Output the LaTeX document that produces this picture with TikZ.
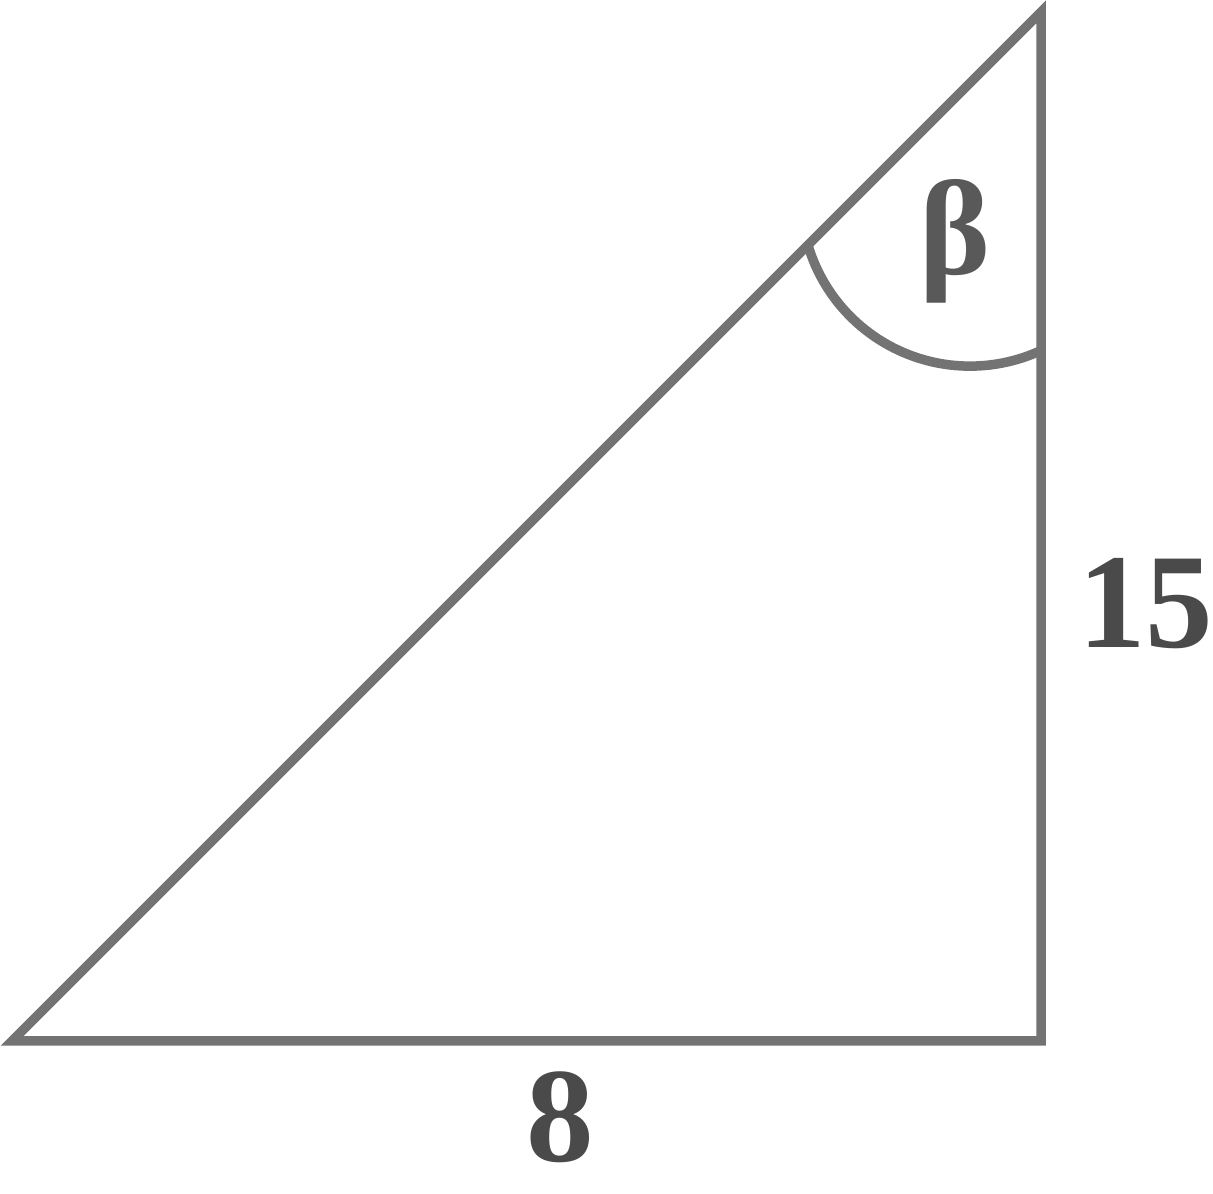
\documentclass[tikz,border=0pt]{standalone}
\usepackage{fontspec}
\setmainfont{Liberation Serif}
\definecolor{linegray}{HTML}{737373}
\definecolor{textgray}{HTML}{4A4A4A}
\definecolor{betagray}{HTML}{595959}
\tikzset{
  edge/.style={draw=linegray, line width=9.5pt, line join=miter},
  lbl/.style={anchor=base, inner sep=0pt, text=textgray, font=\fontsize{135}{160}\selectfont\bfseries}
}
\begin{document}
\begin{tikzpicture}[x=1pt,y=1pt]
\useasboundingbox (0,0) rectangle (1213,1194);
\coordinate (A) at (12,153);
\coordinate (B) at (1041,153);
\coordinate (C) at (1041,1182);
\coordinate (P) at (807.7,949.7);
\draw[edge] (A) -- (B) -- (C) -- cycle;
\draw[edge] (P) arc[start angle=196.2, end angle=294.8, radius=169];
\node[lbl] (fifteen) at (1145.5,546) {15};
\node[lbl] (eight) at (560.5,32) {8};
\node[lbl, text=betagray] (beta) at (955,919) {β};
\end{tikzpicture}
\end{document}
